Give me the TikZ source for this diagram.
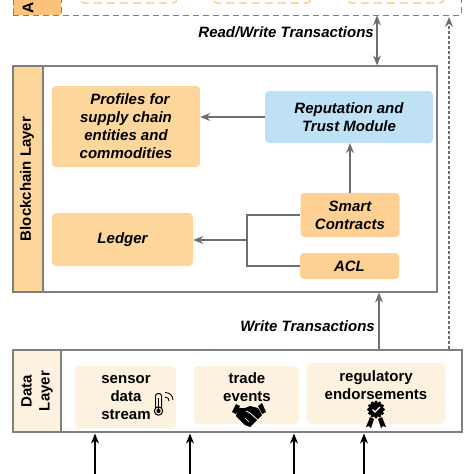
\documentclass[tikz,border=0pt]{standalone}
\usepackage{fontspec}
\setmainfont{Liberation Sans}
\usetikzlibrary{arrows.meta}

\definecolor{edgegray}{HTML}{7F7F7F}
\definecolor{linegray}{HTML}{6E6E6E}
\definecolor{chainorange}{HTML}{FDD69C}
\definecolor{apporange}{HTML}{FBC27C}
\definecolor{contractorange}{HTML}{FFD094}
\definecolor{datacream}{HTML}{FDF1DF}
\definecolor{trustblue}{HTML}{BEE1F6}

\begin{document}
\begin{tikzpicture}[x=1pt, y=-1pt, >={Stealth[length=10pt,width=8pt]},
        every node/.style={font=\fontsize{15}{18}\selectfont\bfseries, align=center, inner sep=0pt},
        layer/.style={draw=edgegray, line width=1.2pt},
        module/.style={rounded corners=4pt, fill=chainorange, font=\fontsize{15}{18}\selectfont\bfseries\itshape},
        source/.style={rounded corners=4pt, fill=datacream},
        link/.style={draw=linegray, line width=1.2pt}]
                \useasboundingbox (0,0) rectangle (474,474);
                \clip (0,0) rectangle (474,474);

                % application layer, cut off by the top edge
                \node[draw=edgegray, dash pattern=on 6pt off 4pt, line width=0.9pt, minimum width=448pt, minimum height=60pt] (appbox) at (237,-15) {};
                \node[draw=edgegray, dash pattern=on 6pt off 4pt, fill=apporange, line width=0.9pt, minimum width=48pt, minimum height=60pt] (apptab) at (37,-15) {};
                \node[rotate=90, anchor=west, font=\fontsize{15.5}{18}\selectfont\bfseries] (applabel) at (28,14) {A};
                \foreach \name/\xpos/\wide in {appa/128.5/97, appb/262/98, appc/395.5/97}
                    \node[draw=apporange, dash pattern=on 8pt off 5pt, rounded corners=4pt, line width=1.1pt, minimum width=\wide pt, minimum height=40pt] (\name) at (\xpos,-17) {};

                % blockchain layer
                \node[layer, minimum width=424pt, minimum height=226pt] (chainbox) at (225,179) {};
                \node[layer, fill=chainorange, minimum width=30pt, minimum height=226pt] (chaintab) at (28,179) {};
                \node[rotate=90] (chainlabel) at (27,179) {Blockchain Layer};
                \node[module, minimum width=148pt, minimum height=81pt] (profiles) at (126,126.5) {\hspace*{8pt}Profiles for\\supply chain\\entities and\\commodities};
                \node[module, minimum width=141pt, minimum height=53pt] (ledger) at (122.5,239.5) {\raisebox{-1pt}{Ledger}};
                \node[module, fill=trustblue, minimum width=168pt, minimum height=52pt] (trust) at (349,117) {Reputation and\\Trust Module};
                \node[module, fill=contractorange, minimum width=99pt, minimum height=44pt] (contracts) at (350,215) {Smart\\Contracts};
                \node[module, fill=contractorange, minimum width=99pt, minimum height=26pt] (acl) at (349.5,266) {ACL};

                \coordinate (fork) at (247,240);
                \draw[link, ->] (trust.west) -- (trust.west -| profiles.east);
                \draw[link, ->] (contracts.north) -- (trust.south -| contracts.north);
                \draw[link] (contracts.west) -| (fork) |- (acl.west);
                \draw[link, ->] (fork) -- (fork -| ledger.east);

                % data layer
                \node[layer, minimum width=449pt, minimum height=82pt] (databox) at (237.5,391) {};
                \node[layer, fill=datacream, minimum width=48pt, minimum height=82pt] (datatab) at (37,391) {};
                \node[rotate=90] (datalabel) at (37,391) {Data\\Layer};
                \node[source, minimum width=101pt, minimum height=62pt] (sensor) at (125.5,397) {};
                \node[source, minimum width=105pt, minimum height=58pt] (trade) at (246.5,395) {};
                \node[source, minimum width=138pt, minimum height=61pt] (regulatory) at (376,393.5) {};
                \node (sensortext) at (126,397.5) {sensor\\data\\stream};
                \node (tradetext) at (247,387.5) {trade\\events};
                \node (regulatorytext) at (376,385) {regulatory\\endorsements};

                % thermometer
                \draw[line width=1pt, rounded corners=2.5pt] (155.5,408) -- (155.5,393.5) -- (161.5,393.5) -- (161.5,408);
                \draw[line width=1pt] (158.5,411) circle (4.2pt);
                \fill (158.5,411) circle (2.2pt);
                \draw[line width=1.4pt] (158.5,398) -- (158.5,410);
                \draw[line width=0.9pt] (165,397) .. controls (168,397) and (169,399) .. (169,401);
                \draw[line width=0.9pt] (165,392.5) .. controls (170,392.5) and (173,396) .. (173,400);

                % handshake
                \fill (232,412) -- (236,404) -- (240,406) -- (236,414) -- cycle;
                \fill (258,406) -- (262,403) -- (266,412) -- (262,414) -- cycle;
                \fill (238,408) -- (245,408) -- (250,406) -- (258,408) -- (262,415) -- (250,427) -- (245,425) -- (236,416) -- cycle;
                \draw[white, line width=0.8pt] (246,411) -- (250,413) -- (258,420);
                \draw[white, line width=0.6pt] (245,418) -- (249,422);

                % badge
                \fill (376,409.5) circle (7.5pt);
                \foreach \ang in {0,30,...,330}
                    \fill (376,409.5) ++(\ang:7.5pt) circle (1.6pt);
                \draw[white, line width=1.1pt] (372.5,409.5) -- (375,412) -- (380,407);
                \fill (370,417) -- (374,419) -- (371,428) -- (369,426) -- (366,427) -- cycle;
                \fill (382,417) -- (378,419) -- (381,428) -- (383,426) -- (386,427) -- cycle;

                % transactions between the layers
                \coordinate (rwline) at (377,40);
                \coordinate (writeline) at (379,320);
                \coordinate (dashline) at (449,200);
                \draw[link, <->] (rwline |- appbox.south) -- (rwline |- chainbox.north);
                \draw[link, ->] (writeline |- databox.north) -- (writeline |- chainbox.south);
                \draw[link, dash pattern=on 3pt off 2pt, ->] (dashline |- databox.north) -- (449,17);
                \node[font=\fontsize{15}{18}\selectfont\bfseries\itshape, anchor=east] (rwlabel) at (374,32) {Read/Write Transactions};
                \node[font=\fontsize{15}{18}\selectfont\bfseries\itshape, anchor=east] (writelabel) at (375,326) {Write Transactions};

                % inputs from below
                \foreach \name/\xpos in {ina/95, inb/190, inc/294, ind/364} {
                    \coordinate (\name) at (\xpos,474);
                    \draw[->, line width=1.2pt] (\name) -- ([yshift=-1pt]\name |- databox.south);
                }
            \end{tikzpicture}
\end{document}
